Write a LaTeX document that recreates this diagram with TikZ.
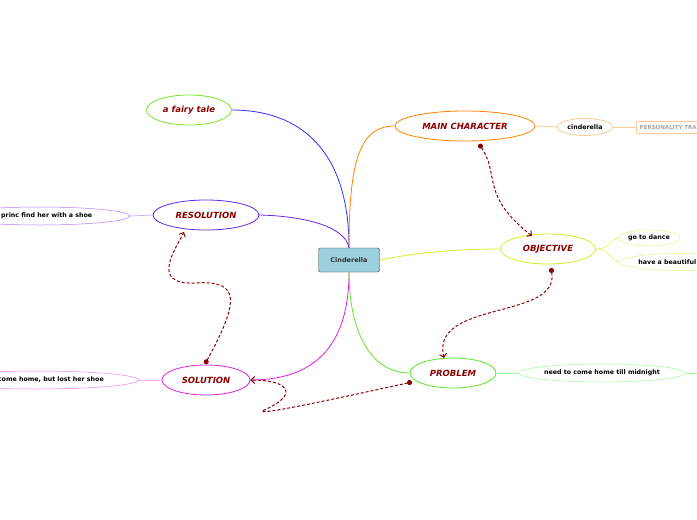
\documentclass[tikz,border=0pt]{standalone}
\usepackage{fontspec}
\setmainfont{DejaVu Sans}
\usetikzlibrary{shapes.geometric,arrows.meta}
\definecolor{dred}{HTML}{8B0000}
\definecolor{cfill}{RGB}{157,208,220}
\definecolor{cft}{RGB}{120,230,40}
\definecolor{cob}{RGB}{215,235,40}
\definecolor{cre}{RGB}{100,40,230}
\definecolor{cpr}{RGB}{90,230,40}
\definecolor{cpf}{RGB}{170,130,250}
\definecolor{cnh}{RGB}{240,130,240}
\definecolor{cso}{RGB}{225,30,225}
\tikzset{
 main/.style={ellipse,draw=#1,line width=0.8pt,fill=white,minimum height=30pt,font=\bfseries\itshape\fontsize{8.5}{9}\selectfont,text=dred,inner sep=1pt},
 sub/.style={ellipse,draw=#1,line width=0.5pt,fill=white,font=\bfseries\fontsize{6.3}{7}\selectfont,inner sep=1pt},
 rel/.style={dred,densely dashed,line width=1pt,{Circle[length=5pt]}-{Straight Barb[length=3.5pt]}},
}
\begin{document}
\begin{tikzpicture}[x=1pt,y=-1pt]
\useasboundingbox (0,0) rectangle (697,520);
\node[draw=black!80,fill=cfill,rounded corners=2pt,minimum width=61pt,minimum height=24pt,font=\bfseries\fontsize{6.5}{7}\selectfont,text=black!80] (c) at (349,260) {Cinderella};
\node[main=cft,minimum width=85pt] (ft) at (189,110) {a fairy tale};
\node[main=orange,minimum width=140pt] (mc) at (465,126) {MAIN CHARACTER};
\node[main=cob,minimum width=95pt] (ob) at (548,249) {OBJECTIVE};
\node[main=cre,minimum width=106pt] (re) at (206,215) {RESOLUTION};
\node[main=cso,minimum width=88pt] (so) at (206,380) {SOLUTION};
\node[main=cpr,minimum width=86pt] (pr) at (453,373) {PROBLEM};
\node[sub=orange!60,minimum width=55pt,minimum height=17pt] (ci) at (585,127) {cinderella};
\node[draw=orange!40,line width=0.8pt,anchor=west,minimum height=12pt,font=\bfseries\fontsize{5.5}{6}\selectfont,text=gray!70] (pt) at (636,127) {PERSONALITY TRAITS};
\node[sub=cob!60,minimum width=62pt,minimum height=16pt] (gd) at (649,238) {go to dance};
\node[sub=cob!60,minimum width=110pt,minimum height=17pt,anchor=west] (hb) at (619,262) {have a beautiful clothes};
\node[sub=cpf,minimum width=180pt,minimum height=18pt,anchor=east] (pf) at (130,216) {the princ find her with a shoe};
\node[sub=cnh,minimum width=205pt,minimum height=18pt,anchor=east] (nh) at (139,380) {need to come home, but lost her shoe};
\node[sub=green!40,minimum width=166pt,minimum height=18pt] (nc) at (602,373) {need to come home till midnight};
\coordinate (pe) at (697,373);
\draw[blue!80,line width=0.8pt] (c.north) .. controls (349,150) and (300,110) .. (ft.east);
\draw[orange,line width=0.8pt] (c.north) .. controls (349,160) and (360,126) .. (mc.west);
\draw[cob,line width=0.8pt] (c.east) .. controls (420,252) and (460,249) .. (ob.west);
\draw[cre,line width=0.8pt] (c.north) .. controls (345,225) and (300,216) .. (re.east);
\draw[cso,line width=0.8pt] (c.south) .. controls (349,340) and (320,380) .. (so.east);
\draw[cpr,line width=0.8pt] (c.south) .. controls (349,330) and (370,373) .. (pr.west);
\draw[orange!40,line width=0.8pt] (mc.east) -- (ci.west);
\draw[orange!40,line width=0.8pt] (ci.east) -- (pt.west);
\draw[cob!60,line width=0.8pt] (ob.east) .. controls (610,249) and (612,238) .. (gd.west);
\draw[cob!60,line width=0.8pt] (ob.east) .. controls (610,249) and (612,262) .. (hb.west);
\draw[cpf!60,line width=0.8pt] (re.west) -- (pf.east);
\draw[cnh!60,line width=0.8pt] (so.west) -- (nh.east);
\draw[green!40,line width=0.8pt] (pr.east) -- (nc.west);
\draw[green!40,line width=0.8pt] (nc.east) -- (pe);
\draw[rel] (479,144) .. controls (500,175) and (480,195) .. (532,236);
\draw[rel] (551,268) .. controls (560,320) and (430,300) .. (444,358);
\draw[rel] (205,364) .. controls (240,300) and (240,280) .. (195,283) .. controls (150,285) and (175,250) .. (184,232);
\draw[rel] (412,382) .. controls (330,400) and (260,415) .. (262,411) .. controls (300,395) and (290,380) .. (so.east);
\end{tikzpicture}
\end{document}
